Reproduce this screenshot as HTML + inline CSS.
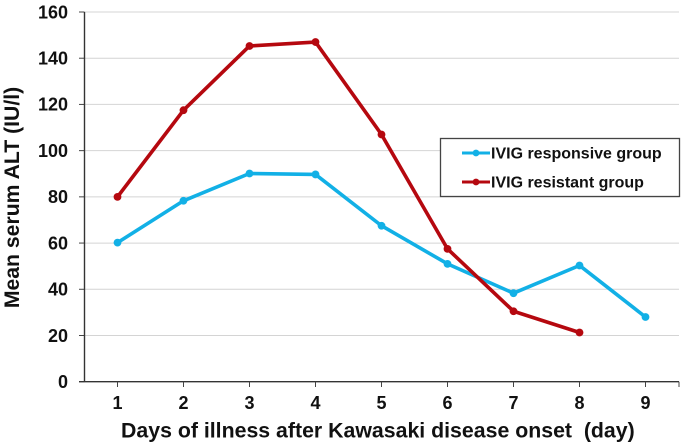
<!DOCTYPE html>
<html>
<head>
<meta charset="utf-8">
<style>
html,body{margin:0;padding:0;background:#fff;width:685px;height:443px;overflow:hidden}
svg{display:block}
text{font-family:"Liberation Sans",Arial,sans-serif;font-weight:bold;fill:#111}
</style>
</head>
<body>
<svg id="chart" width="685" height="443" viewBox="0 0 685 443" xmlns="http://www.w3.org/2000/svg"></svg>
<script>
const days = [1, 2, 3, 4, 5, 6, 7, 8, 9];
const yTicks = [0, 20, 40, 60, 80, 100, 120, 140, 160];
const responsiveValues = [60.2, 78.3, 90.1, 89.7, 67.5, 51, 38.3, 50.3, 28];
const resistantValues = [80, 117.5, 145.3, 147, 107, 57.5, 30.5, 21.3];
const responsiveLabel = 'IVIG responsive group';
const resistantLabel = 'IVIG resistant group';

const svg = document.getElementById('chart');
const NS = 'http://www.w3.org/2000/svg';
const yScale = v => 381.7 - v * (369.7 / 160);
const xScale = d => 117.5 + (d - 1) * 66;

function add(tag, attrs, parent) {
  const el = document.createElementNS(NS, tag);
  for (const k in attrs) el.setAttribute(k, attrs[k]);
  (parent || svg).appendChild(el);
  return el;
}

yTicks.forEach(t => {
  const y = yScale(t);
  if (t > 0) {
    const grid = add('line', {x1: 84.5, x2: 679, y1: y, y2: y, stroke: '#d4d4d4', 'stroke-width': 1});
    
    
  }
  const tick = add('line', {x1: 79, x2: 84.5, y1: y, y2: y, stroke: '#444', 'stroke-width': 1});
  
  
  const lab = add('text', {x: 68, y: y + 6.3, 'text-anchor': 'end', 'font-size': 18});
  lab.textContent = t;
  
  
});

const yAxis = add('line', {x1: 84.5, x2: 84.5, y1: 12, y2: 382, stroke: '#333', 'stroke-width': 1.4});


const xAxis = add('line', {x1: 79, x2: 679, y1: 381.7, y2: 381.7, stroke: '#333', 'stroke-width': 1.4});



days.forEach(d => {
  const x = xScale(d);
  const tick = add('line', {x1: x, x2: x, y1: 381.7, y2: 387, stroke: '#444', 'stroke-width': 1});
  
  
  const lab = add('text', {x: x, y: 409, 'text-anchor': 'middle', 'font-size': 18});
  lab.textContent = d;
  
  
});
const endTick = add('line', {x1: 679, x2: 679, y1: 381.7, y2: 387, stroke: '#444', 'stroke-width': 1});



function drawSeries(values, color, name, r) {
  const g = add('g', {});
  
  
  const pts = values.map((v, i) => xScale(days[i]) + ',' + yScale(v)).join(' ');
  const line = add('polyline', {points: pts, fill: 'none', stroke: color, 'stroke-width': 3.6, 'stroke-linejoin': 'round'}, g);
  
  
  values.forEach((v, i) => {
    const c = add('circle', {cx: xScale(days[i]), cy: yScale(v), r: r, fill: color}, g);
    
    
  });
}
drawSeries(responsiveValues, '#12b0e6', 'responsive-series', 3.9);
drawSeries(resistantValues, '#b5080f', 'resistant-series', 3.9);

const legend = add('g', {});


const box = add('rect', {x: 440.5, y: 138.5, width: 239, height: 58, fill: '#fff', stroke: '#444', 'stroke-width': 1.3}, legend);



function legendEntry(y, color, label, name) {
  const l = add('line', {x1: 462, x2: 490, y1: y, y2: y, stroke: color, 'stroke-width': 3}, legend);
  
  
  const c = add('circle', {cx: 476, cy: y, r: 3.4, fill: color}, legend);
  
  
  const t = add('text', {x: 491, y: y + 5.5, 'font-size': 16}, legend);
  t.textContent = label;
  
  
}
legendEntry(153, '#12b0e6', responsiveLabel, 'legend-responsive');
legendEntry(182, '#b5080f', resistantLabel, 'legend-resistant');

const xTitle = add('text', {x: 121, y: 437.5, 'font-size': 21.3});
xTitle.setAttribute('xml:space', 'preserve');
xTitle.style.whiteSpace = 'pre';
xTitle.textContent = 'Days of illness after Kawasaki disease onset  (day)';



const yTitle = add('text', {x: 0, y: 0, 'text-anchor': 'middle', 'font-size': 21.2, transform: 'translate(19,197.5) rotate(-90)'});
yTitle.textContent = 'Mean serum ALT (IU/l)';


</script>
</body>
</html>
